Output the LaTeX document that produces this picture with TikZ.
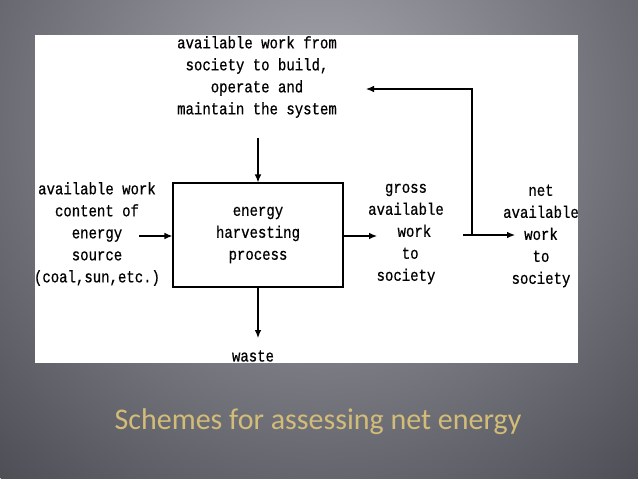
\documentclass[tikz,border=0pt]{standalone}
\usepackage{fontspec}
\newfontfamily\tw[FakeStretch=0.84,FakeBold=0.6]{Liberation Mono}
\newfontfamily\titlefont{Carlito}
\definecolor{bgin}{RGB}{168,168,176}
\definecolor{bgout}{RGB}{78,78,86}
\definecolor{titlecol}{RGB}{210,188,120}
\tikzset{
  lbl/.style={font=\tw\fontsize{12.5}{16.5}\selectfont, align=center, inner sep=0pt},
  arr/.style={-{Latex[length=6pt,width=5pt]}, line width=0.9pt},
}
\usetikzlibrary{arrows.meta}
\begin{document}
\begin{tikzpicture}[x=0.75pt,y=-0.75pt]
\useasboundingbox (0,0) rectangle (638,478);
\begin{scope}
\clip (0,0) rectangle (638,478);
\shade[inner color=bgin, outer color=bgout] (320,120) circle (480);
\end{scope}
\fill[white] (35,35) rectangle (578,363);
\node[draw, line width=0.9pt, minimum width=127.5pt, minimum height=78pt, inner sep=0pt] (box) at (258,235) {};
\node[lbl] (proc) at (258,235) {energy\\harvesting\\ process};
\node[lbl] (top) at (257,77) {available work from\\society to build,\\operate and\\maintain the system};
\node[lbl] (src) at (97,234) {available work\\content of\\energy\\source\\(coal,sun,etc.)};
\node[lbl] (gross) at (406,234) {gross\\available\\\ \ work\\\ to\\society};
\node[lbl] (net) at (541,236) {net\\available\\work\\to\\society};
\node[lbl] (waste) at (253,356) {waste};
\coordinate (tA) at (258,138);
\coordinate (wA) at (258,338);
\coordinate (sA) at (139,236);
\coordinate (gA) at (377,236);
\coordinate (nS) at (463,235);
\coordinate (nE) at (515,235);
\coordinate (fb) at (472,89);
\coordinate (fbE) at (366,89);
\draw[arr] (tA) -- (box.north -| tA);
\draw[arr] (box.south -| wA) -- (wA);
\draw[arr] (sA) -- (box.west |- sA);
\draw[arr] (box.east |- gA) -- (gA);
\draw[arr] (nS) -- (nE);
\draw[arr] (472,235) -- (fb) -- (fbE);
\node[titlecol, font=\titlefont\fontsize{22.5}{25}\selectfont] (title) at (318,422) {Schemes for assessing net energy};
\end{tikzpicture}
\end{document}
